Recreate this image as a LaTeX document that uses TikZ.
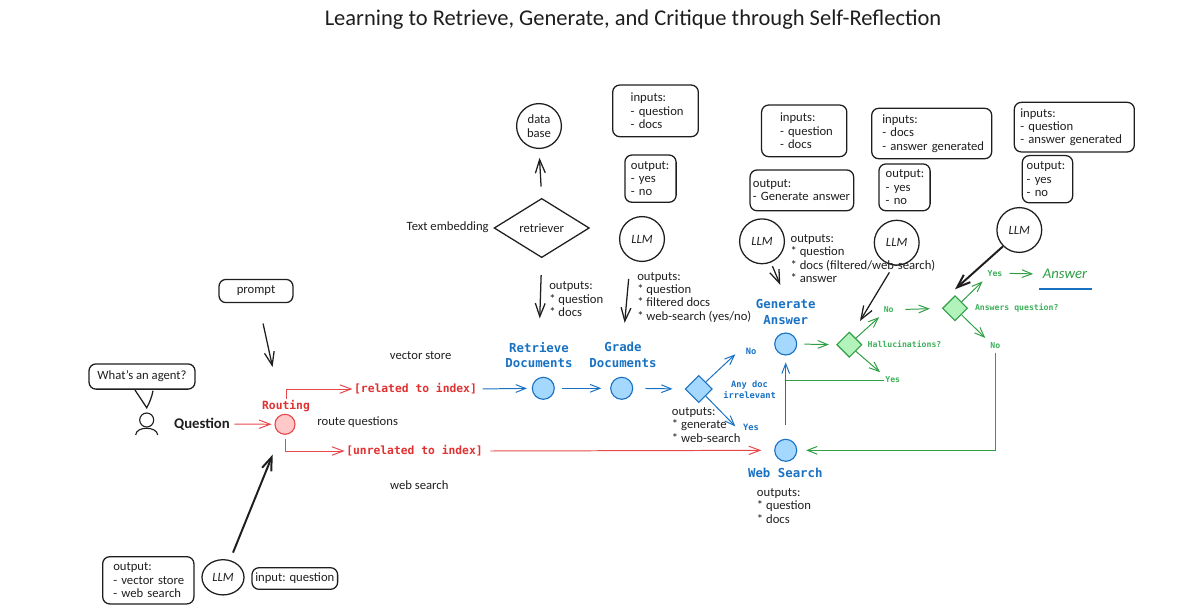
\documentclass[tikz,border=0pt]{standalone}
\usepackage{fontspec}
\setmainfont{Carlito}
\newfontfamily\codefont{DejaVu Sans Mono}
\usetikzlibrary{shapes.geometric, arrows.meta}
\definecolor{ink}{HTML}{1E1E1E}
\definecolor{redline}{HTML}{E8474C}
\definecolor{redtext}{HTML}{E03131}
\definecolor{redfill}{HTML}{FFC9C9}
\definecolor{blueline}{HTML}{1971C2}
\definecolor{bluefill}{HTML}{A5D8FF}
\definecolor{greenline}{HTML}{2F9E44}
\definecolor{greenfill}{HTML}{B2F2BB}
\definecolor{greentext}{HTML}{3DB05A}
\tikzset{pad/.style={inner xsep=0pt, execute at begin node={\leftskip=#1\relax}}}
\tikzstyle{box} = [rectangle, rounded corners=5pt, draw=ink, line width=0.9pt, align=left, text=ink, font=\fontsize{9}{9.5}\selectfont]
\tikzstyle{llm} = [ellipse, minimum width=1.12cm, minimum height=1.12cm, inner sep=0pt, draw=ink, line width=0.9pt, text=ink, font=\fontsize{9}{9.5}\selectfont\itshape]
\tikzstyle{note} = [anchor=west, inner sep=0pt, align=left, text=ink, font=\fontsize{9}{9.5}\selectfont]
\tikzstyle{plain} = [inner sep=1pt, text=ink, font=\fontsize{9}{9.5}\selectfont]
\tikzstyle{step1} = [inner sep=1pt, align=center, text=blueline, font=\fontsize{8.8}{11.1}\selectfont\codefont\bfseries]
\tikzstyle{tag1} = [inner sep=1pt, align=center, text=blueline, font=\fontsize{6.2}{8}\selectfont\codefont\bfseries]
\tikzstyle{tag2} = [inner sep=1pt, text=greentext, font=\fontsize{5.8}{7}\selectfont\codefont\bfseries]
\tikzstyle{route} = [inner sep=1pt, text=redtext, font=\fontsize{8.05}{10}\selectfont\codefont\bfseries]
\tikzstyle{dot1} = [circle, minimum size=0.55cm, inner sep=0pt, draw=blueline, fill=bluefill, line width=0.8pt]
\tikzstyle{gem1} = [diamond, minimum size=0.68cm, inner sep=0pt, draw=blueline, fill=bluefill, line width=0.8pt]
\tikzstyle{gem2} = [diamond, minimum size=0.63cm, inner sep=0pt, draw=greenline, fill=greenfill, line width=0.8pt]
\tikzstyle{arrow} = [line width=0.9pt, draw=ink, -{Straight Barb[length=9.5pt,width=7pt]}]
\tikzstyle{arrowbig} = [line width=1.4pt, draw=ink, -{Straight Barb[length=9.5pt,width=7pt]}]
\tikzstyle{arrowred} = [line width=0.7pt, draw=redline, -{Straight Barb[length=8pt,width=6pt]}]
\tikzstyle{arrowblue} = [line width=0.7pt, draw=blueline, -{Straight Barb[length=7pt,width=5.5pt]}]
\tikzstyle{arrowgreen} = [line width=0.7pt, draw=greenline, -{Straight Barb[length=7pt,width=5.5pt]}]
\begin{document}
\begin{tikzpicture}[x=0.025cm, y=-0.025cm]
\useasboundingbox (0,0) rectangle (1200,608);
\node (title) [plain, font=\fontsize{16}{18}\selectfont] at (633,20) {Learning to Retrieve, Generate, and Critique through Self-Reflection};

% left part
\node (prompt) [box, align=center, minimum width=1.85cm, minimum height=0.58cm] at (256,291) {prompt};
\node (agent) [box, align=center, minimum width=2.65cm, minimum height=0.63cm] at (142,376.5) {What's an agent?};
\node (user) [circle, minimum size=0.35cm, inner sep=0pt, draw=ink, line width=0.8pt] at (146.7,420) {};
\draw[ink, line width=0.9pt] (135,390) -- (146.7,407.7) .. controls (150,402) and (152,396) .. (153,390.7);
\draw[ink, line width=0.8pt] (135.7,435) .. controls (136,426) and (157,426) .. (157.7,435);
\node (question) [plain, font=\fontsize{10.5}{12}\selectfont\bfseries] at (202,424) {Question};
\node (routing) [circle, minimum size=0.5cm, inner sep=0pt, draw=redline, fill=redfill, line width=0.8pt] at (285,424.3) {};
\node (routing_lbl) [route] at (286,406) {Routing};
\node (related) [route] at (415.5,389) {[related to index]};
\node (unrelated) [route] at (414.5,451) {[unrelated to index]};
\node (vector) [plain] at (420.7,356) {vector store};
\node (route_q) [plain] at (357.7,422.3) {route questions};
\node (web_lbl) [plain] at (419.3,485) {web search};
\node (llm_route) [llm, minimum width=1.05cm, minimum height=0.88cm] at (223,577.3) {LLM};
\node (route_out) [box, pad=0.265cm, text width=2.28cm, minimum height=1.18cm] at (148.3,580.3) {output:\\- vector store\\- web search};
\node (route_in) [box, align=center, inner xsep=0pt, minimum width=2.14cm, minimum height=0.54cm] at (294.8,578.5) {input: question};

% retriever and grader
\node (retriever) [diamond, minimum width=2.38cm, minimum height=1.48cm, inner sep=0pt, draw=ink, line width=0.9pt, text=ink, font=\fontsize{9}{9.5}\selectfont] at (541.7,228) {retriever};
\node (database) [circle, minimum size=1.12cm, inner sep=0pt, draw=ink, line width=0.9pt, align=center, text=ink, font=\fontsize{9}{10}\selectfont] at (539,126) {data\\base};
\node (embed) [plain] at (447.7,227) {Text embedding};
\node (retrieve_notes) [note] at (549,299.3) {outputs:\\* question\\* docs};
\node (grade_in) [box, pad=0.45cm, text width=2.14cm, minimum height=1.29cm] at (655.5,110.85) {inputs:\\- question\\- docs};
\node (grade_out) [box, pad=0.15cm, text width=1.28cm, minimum height=1.18cm] at (650.5,178.65) {output:\\- yes\\- no};
\node (llm_grade) [llm] at (642,239) {LLM};
\node (grade_notes) [note] at (637,297.3) {outputs:\\* question\\* filtered docs\\* web-search (yes/no)};

% generate
\node (gen_in) [box, pad=0.46cm, text width=2.13cm, minimum height=1.29cm] at (804.2,130.85) {inputs:\\- question\\- docs};
\node (gen_out) [box, pad=0.07cm, text width=2.59cm, minimum height=1.02cm] at (801.85,190.35) {output:\\- Generate answer};
\node (llm_gen) [llm] at (762,241.3) {LLM};
\node (gen_notes) [note] at (790.3,258.7) {outputs:\\* question\\* docs (filtered/web-search)\\* answer};

% hallucinations and answer grader
\node (hall_in) [box, pad=0.265cm, text width=3cm, minimum height=1.26cm] at (931.7,133.5) {inputs:\\- docs\\- answer generated};
\node (hall_out) [box, pad=0.17cm, text width=1.28cm, minimum height=1.17cm] at (904.5,187.35) {output:\\- yes\\- no};
\node (llm_hall) [llm] at (896.7,242.7) {LLM};
\node (ans_in) [box, pad=0.15cm, text width=3cm, minimum height=1.24cm] at (1074.3,127.15) {inputs:\\- question\\- answer generated};
\node (ans_out) [box, pad=0.11cm, text width=1.26cm, minimum height=1.18cm] at (1047.5,179.2) {output:\\- yes\\- no};
\node (llm_ans) [llm] at (1019.3,230) {LLM};

% flow
\node (retrieve_lbl) [step1] at (539,355) {Retrieve\\Documents};
\node (retrieve) [dot1] at (543.3,388.3) {};
\node (grade_lbl) [step1] at (623,355) {Grade\\Documents};
\node (grade) [dot1] at (621.7,388.3) {};
\node (check) [gem1] at (698.7,389) {};
\node (doc_no) [tag1] at (751,351) {No};
\node (doc_yes) [tag1] at (751,427.7) {Yes};
\node (doc_lbl) [tag1] at (749.5,389.5) {Any doc\\irrelevant};
\node (check_notes) [note] at (671.7,424.7) {outputs:\\* generate\\* web-search};
\node (gen_lbl) [step1] at (785.7,312) {Generate\\Answer};
\node (generate) [dot1] at (785.7,344) {};
\node (websearch) [dot1] at (785.7,450.3) {};
\node (web_title) [step1] at (785.3,473.3) {Web Search};
\node (web_notes) [note] at (756.7,506) {outputs:\\* question\\* docs};
\node (hall) [gem2] at (849.3,344.7) {};
\node (hall_lbl) [tag2, anchor=west] at (866,344) {Hallucinations?};
\node (hall_no) [tag2] at (888.7,309.7) {No};
\node (hall_yes) [tag2] at (892.7,380) {Yes};
\node (ans_check) [gem2] at (955,308.3) {};
\node (ans_lbl) [tag2, anchor=west] at (973.3,308.3) {Answers question?};
\node (ans_yes) [tag2] at (995,273.3) {Yes};
\node (ans_no) [tag2] at (995.3,346) {No};
\node (answer) [plain, text=greenline, font=\fontsize{10.5}{12}\selectfont\itshape] at (1065,274) {Answer};
\coordinate (hall_tip) at (860,321);
\coordinate (ans_tip) at (955,289.3);
\draw[blueline, line width=1.3pt] (1039.3,288.7) -- (1091.7,288.7);

\draw[arrow, shorten <=0.52cm, shorten >=1.2cm] (prompt) -- (routing);
\draw[arrowbig, shorten <=0.2cm, shorten >=0.55cm] (llm_route) -- (routing);
\draw[arrowred, shorten <=2pt, shorten >=2pt] (question.east) -- (routing.west);
\draw[arrowred] (routing_lbl.north) |- (related.west);
\draw[arrowred, shorten <=0.1cm] (routing.south) |- (unrelated.west);
\draw[arrowred, shorten <=0.15cm, shorten >=0.32cm] (unrelated.east) -- (websearch.west);

\draw[arrow, shorten <=0.28cm, shorten >=0.22cm] (retriever.north) -- (database.south);
\draw[arrow, shorten <=0.42cm, shorten >=0.55cm] (retriever.south) -- (retrieve_lbl.north);
\draw[arrow, shorten <=0.5cm, shorten >=0.45cm] (llm_grade.240) -- (grade_lbl.north);
\draw[arrow, shorten <=0.1cm, shorten >=0.35cm] (llm_gen) -- (gen_lbl.north);
\draw[arrow, shorten <=0.2cm] (llm_hall.262) -- (hall_tip);
\draw[arrowbig] (llm_ans.south west) -- (ans_tip);

\draw[arrowblue, shorten <=0.1cm, shorten >=0.12cm] (related.east) -- (retrieve.west);
\draw[arrowblue, shorten <=0.18cm, shorten >=0.22cm] (retrieve.east) -- (grade.west);
\draw[arrowblue, shorten <=0.3cm, shorten >=0.3cm] (grade.east) -- (check.west);
\draw[arrowblue, shorten >=0.3cm] (check.north east) -- (doc_no.north west);
\draw[arrowblue, shorten >=0.22cm] (check.south east) -- (doc_yes.south west);
\draw[arrowblue, shorten <=0.35cm, shorten >=0.17cm] (websearch.north) -- (generate.south);
\draw[arrowgreen, shorten <=0.18cm, shorten >=0.18cm] (generate.east) -- (hall.west);
\draw[arrowgreen, shorten >=0.1cm] (hall.north east) -- (hall_no.south west);
\draw[arrowgreen, shorten >=0.12cm] (hall.south east) -- (hall_yes.north west);
\draw[greenline, line width=0.65pt] (hall_yes.west) -- (hall_yes.west -| generate);
\draw[arrowgreen, shorten <=0.25cm, shorten >=0.3cm] (hall_no.east) -- (ans_check.west);
\draw[arrowgreen, shorten >=0.12cm] (ans_check.north east) -- (ans_yes.south west);
\draw[arrowgreen, shorten >=0.12cm] (ans_check.south east) -- (ans_no.north west);
\draw[arrowgreen, shorten <=0.14cm, shorten >=0.2cm] (ans_yes.east) -- (answer.west);
\draw[arrowgreen, shorten <=0.05cm, shorten >=0.22cm] (ans_no.south) |- (websearch.east);
\end{tikzpicture}
\end{document}
